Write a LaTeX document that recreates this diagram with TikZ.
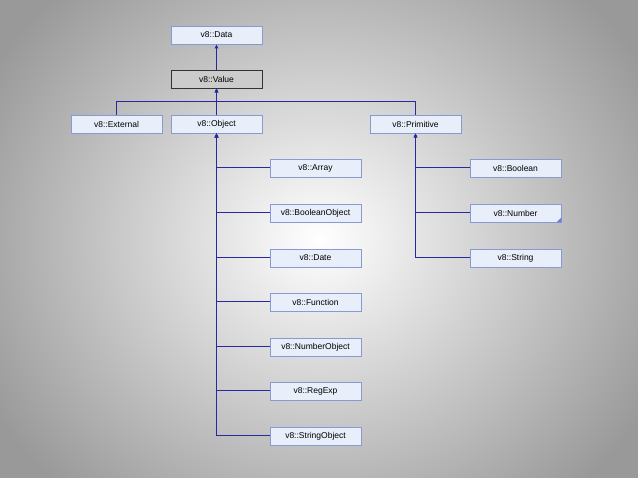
\documentclass[tikz,border=0pt]{standalone}
\usepackage{fontspec}
\setmainfont{Liberation Sans}
\usetikzlibrary{arrows.meta}
\definecolor{ln}{RGB}{40,40,160}
\definecolor{bx}{RGB}{232,238,250}
\definecolor{bd}{RGB}{135,155,210}
\begin{document}
\begin{tikzpicture}[x=1pt,y=-1pt,
 box/.style={draw=bd,fill=bx,line width=0.8pt,minimum width=91pt,minimum height=18pt,inner sep=0pt,font=\fontsize{8.5}{10}\selectfont},
 con/.style={color=ln,line width=1pt,-{Triangle[length=4pt,width=3.5pt]}}]
\useasboundingbox (0,0) rectangle (638,478);
\begin{scope}
\clip (0,0) rectangle (638,478);
\shade[inner color=white,outer color=black!40] (-60,-100) rectangle (698,578);
\end{scope}
\node[box] (data) at (216.5,35) {v8::Data};
\node[box,fill=black!20,draw=black!80] (value) at (216.5,79) {v8::Value};
\node[box] (ext) at (116.5,124) {v8::External};
\node[box] (obj) at (216.5,124) {v8::Object};
\node[box] (prim) at (415.5,124) {v8::Primitive};
\foreach \n/\t/\y in {arr/Array/168,bo/BooleanObject/213,date/Date/258,fun/Function/302,no/NumberObject/347,re/RegExp/391,so/StringObject/436}
  \node[box] (\n) at (315.5,\y) {v8::\t};
\foreach \n/\t/\y in {bool/Boolean/168,num/Number/213,str/String/258}
  \node[box] (\n) at (515.5,\y) {v8::\t};
\fill[bd!80!blue] (num.south east) -- ++(-5,0) -- ++(5,-5) -- cycle;
\draw[con] (value) -- (data);
\draw[con] (obj) -- (value);
\coordinate (bus) at (216.5,102);
\draw[con] (ext.north) |- (bus) -- (value.south);
\draw[con] (prim.north) |- (bus) -- (value.south);
\foreach \n in {arr,bo,date,fun,no,re,so}
  \draw[con] (\n.west) -| (obj.south);
\foreach \n in {bool,num,str}
  \draw[con] (\n.west) -| (prim.south);
\end{tikzpicture}
\end{document}
